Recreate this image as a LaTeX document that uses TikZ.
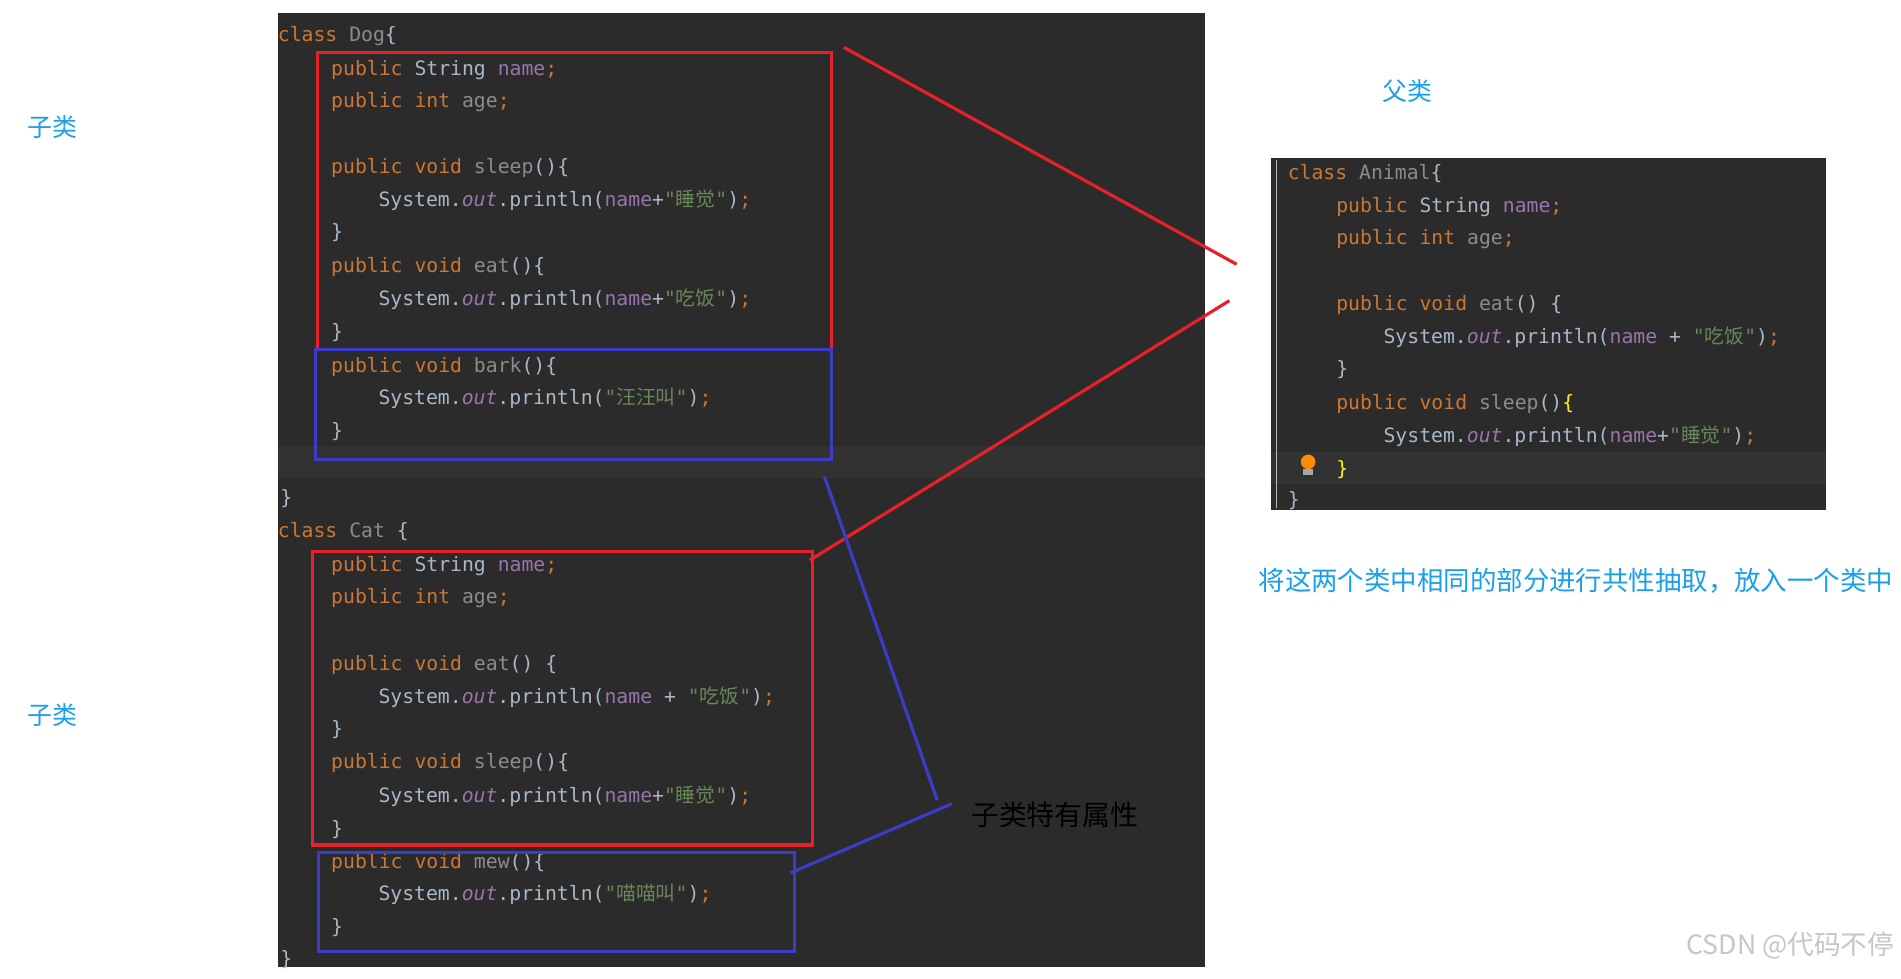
\documentclass[tikz,border=0pt]{standalone}
\usepackage{fontspec}
\setmainfont{Noto Sans CJK SC}
\setmonofont{DejaVu Sans Mono}
\newfontfamily\cjk{Noto Sans CJK SC}
\definecolor{bgc}{HTML}{2B2B2B}
\definecolor{bandc}{HTML}{323232}
\definecolor{kwc}{HTML}{CC7832}
\definecolor{fdc}{HTML}{9876AA}
\definecolor{txc}{HTML}{A9B7C6}
\definecolor{stc}{HTML}{6A8759}
\definecolor{dimc}{HTML}{8C8C8C}
\definecolor{redc}{HTML}{E8202A}
\definecolor{bluec}{HTML}{3C3CC8}
\definecolor{labc}{HTML}{1A9FE8}
\newcommand\kw[1]{\textcolor{kwc}{#1}}
\newcommand\fd[1]{\textcolor{fdc}{#1}}
\newcommand\tx[1]{\textcolor{txc}{#1}}
\newcommand\stt[1]{\textcolor{stc}{"{\cjk #1}"}}
\newcommand\dm[1]{\textcolor{dimc}{#1}}
\newcommand\sem{\textcolor{kwc}{;}}
\newcommand\outf{\textcolor{fdc}{\itshape out}}
\begin{document}
\begin{tikzpicture}[x=1pt,y=-1pt,
  code/.style={anchor=base west,inner sep=0,font=\ttfamily\fontsize{16.3}{17}\selectfont},
  lab/.style={text=labc,font=\fontsize{20.5}{22}\selectfont},
  redbox/.style={draw=redc,line width=2.6pt},
  bluebox/.style={draw=bluec,line width=2.6pt},
  redline/.style={draw=redc,line width=2.6pt},
  blueline/.style={draw=bluec,line width=2.6pt}]
\useasboundingbox (0,0) rectangle (1568,807);
\fill[white] (0,0) rectangle (1568,807);
% left panel
\fill[bgc] (229,11) rectangle (994,798);
\fill[bandc] (229,368) rectangle (994,394);
\node[code] (d0) at (229,34) {\kw{class} \dm{Dog}\tx{\{}};
\node[code] (d1) at (273,62) {\kw{public} \tx{String} \fd{name}\sem};
\node[code] (d2) at (273,89) {\kw{public int} \dm{age}\sem};
\node[code] (d3) at (273,143) {\kw{public void} \dm{sleep}\tx{()\{}};
\node[code] (d4) at (312,170) {\tx{System.}\outf\tx{.println(}\fd{name}\tx{+}\stt{睡觉}\tx{)}\sem};
\node[code] (d5) at (273,197) {\tx{\}}};
\node[code] (d6) at (273,225) {\kw{public void} \dm{eat}\tx{()\{}};
\node[code] (d7) at (312,252) {\tx{System.}\outf\tx{.println(}\fd{name}\tx{+}\stt{吃饭}\tx{)}\sem};
\node[code] (d8) at (273,279) {\tx{\}}};
\node[code] (d9) at (273,307) {\kw{public void} \dm{bark}\tx{()\{}};
\node[code] (d10) at (312,334) {\tx{System.}\outf\tx{.println(}\stt{汪汪叫}\tx{)}\sem};
\node[code] (d11) at (273,361) {\tx{\}}};
\node[code] (d12) at (231,416) {\tx{\}}};
\node[code] (c0) at (229,443) {\kw{class} \dm{Cat} \tx{\{}};
\node[code] (c1) at (273,471) {\kw{public} \tx{String} \fd{name}\sem};
\node[code] (c2) at (273,498) {\kw{public int} \dm{age}\sem};
\node[code] (c3) at (273,553) {\kw{public void} \dm{eat}\tx{() \{}};
\node[code] (c4) at (312,580) {\tx{System.}\outf\tx{.println(}\fd{name} \tx{+} \stt{吃饭}\tx{)}\sem};
\node[code] (c5) at (273,607) {\tx{\}}};
\node[code] (c6) at (273,634) {\kw{public void} \dm{sleep}\tx{()\{}};
\node[code] (c7) at (312,662) {\tx{System.}\outf\tx{.println(}\fd{name}\tx{+}\stt{睡觉}\tx{)}\sem};
\node[code] (c8) at (273,689) {\tx{\}}};
\node[code] (c9) at (273,716) {\kw{public void} \dm{mew}\tx{()\{}};
\node[code] (c10) at (312,743) {\tx{System.}\outf\tx{.println(}\stt{喵喵叫}\tx{)}\sem};
\node[code] (c11) at (273,770) {\tx{\}}};
\node[code] (c12) at (231,796) {\tx{\}}};
% right panel
\fill[bgc] (1048,130) rectangle (1506,421);
\fill[bandc] (1048,373) rectangle (1506,399);
\draw[dimc!60,line width=1pt] (1053,132) -- (1053,419);
\node[code] (a0) at (1062,148) {\kw{class} \dm{Animal}\tx{\{}};
\node[code] (a1) at (1102,175) {\kw{public} \tx{String} \fd{name}\sem};
\node[code] (a2) at (1102,202) {\kw{public int} \dm{age}\sem};
\node[code] (a3) at (1102,256) {\kw{public void} \dm{eat}\tx{() \{}};
\node[code] (a4) at (1141,283) {\tx{System.}\outf\tx{.println(}\fd{name} \tx{+} \stt{吃饭}\tx{)}\sem};
\node[code] (a5) at (1102,310) {\tx{\}}};
\node[code] (a6) at (1102,338) {\kw{public void} \dm{sleep}\tx{()}\textcolor{yellow}{\{}};
\node[code] (a7) at (1141,365) {\tx{System.}\outf\tx{.println(}\fd{name}\tx{+}\stt{睡觉}\tx{)}\sem};
\fill[orange!90!yellow] (1079,381) circle (6);
\fill[gray!70] (1075,387) rectangle (1083,392);
\node[code] (a8) at (1102,392) {\textcolor{yellow}{\}}};
\node[code] (a9) at (1062,418) {\tx{\}}};
% boxes
\draw[redbox] (262,43) rectangle (686,288);
\draw[bluebox] (260,288) rectangle (686,379);
\draw[redbox] (258,455) rectangle (670,697);
\draw[bluebox] (263,703) rectangle (655,785);
% labels
\node[lab] (l1) at (43,105) {子类};
\node[lab] (l2) at (43,590) {子类};
\node[lab] (l3) at (1161,75) {父类};
\node[lab,anchor=west,inner sep=0,font=\fontsize{21.8}{23}\selectfont] (l4) at (1038,479) {将这两个类中相同的部分进行共性抽取，放入一个类中};
\node[font=\fontsize{23}{25}\selectfont,text=black] (l5) at (870,672) {子类特有属性};
\node[font=\fontsize{22}{24}\selectfont,text=gray!45,anchor=east] (wm) at (1566,780) {CSDN @代码不停};
% connectors
\coordinate (r1a) at (696,39); \coordinate (r1b) at (1020,218);
\coordinate (r2a) at (668,462); \coordinate (r2b) at (1014,248);
\coordinate (b1a) at (680,393); \coordinate (b1b) at (773,660);
\coordinate (b2a) at (785,663); \coordinate (b2b) at (652,720);
\draw[redline] (r1a) -- (r1b);
\draw[redline] (r2a) -- (r2b);
\draw[blueline] (b1a) -- (b1b);
\draw[blueline] (b2a) -- (b2b);
\end{tikzpicture}
\end{document}
